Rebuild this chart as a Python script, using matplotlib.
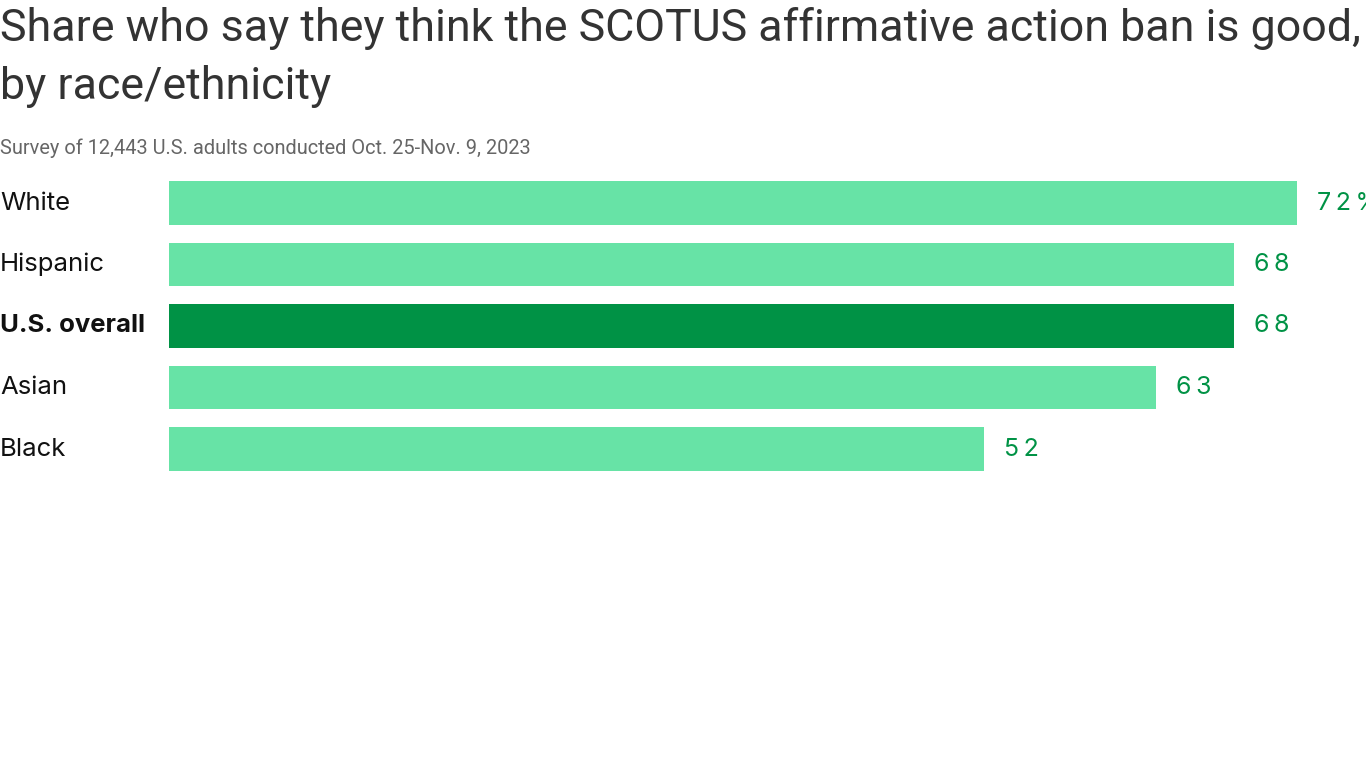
import matplotlib
matplotlib.use("Agg")
import matplotlib.pyplot as plt

categories = ["White", "Hispanic", "U.S. overall", "Asian", "Black"]
values = [72, 68, 68, 63, 52]
value_labels = ["72%", "68", "68", "63", "52"]
highlight = "U.S. overall"

title_line1 = "Share who say they think the SCOTUS affirmative action ban is good,"
title_line2 = "by race/ethnicity"
subtitle = "Survey of 12,443 U.S. adults conducted Oct. 25-Nov. 9, 2023"

W, H = 1366, 768
fig = plt.figure(figsize=(W / 100, H / 100), dpi=100)
fig.patch.set_facecolor("white")

FONT = ["Inter", "DejaVu Sans"]
TFONT = ["Roboto", "DejaVu Sans"]
light = "#67E3A6"
dark = "#009245"
txtgreen = "#009245"

# axes: bars start at x=169px, scale ~15.667px per unit
left_px = 169
px_per_unit = (1297 - 169) / 72
ax_w_px = W - left_px
top_px, bot_px = 172.25, 479.75
ax = fig.add_axes([left_px / W, 1 - bot_px / H, ax_w_px / W, (bot_px - top_px) / H])
ax.set_xlim(0, ax_w_px / px_per_unit)
ax.set_ylim(len(categories) - 0.5, -0.5)
ax.axis("off")

colors = [dark if c == highlight else light for c in categories]
ypos = list(range(len(categories)))
ax.barh(ypos, values, height=0.715, color=colors, edgecolor="none")

thin = "\u2009"
for y, v, lab, c in zip(ypos, values, value_labels, categories):
    ax.annotate(thin.join(lab), xy=(v, y), xytext=(20, 0), textcoords="offset pixels",
                ha="left", va="center", fontsize=18, color=txtgreen, family=FONT,
                annotation_clip=False)
    ax.annotate(c, xy=(0, y), xycoords=("figure fraction", "data"), xytext=(0, 0),
                textcoords="offset pixels", ha="left", va="center", fontsize=18.5,
                color="#111111", family=FONT,
                fontweight="bold" if c == highlight else "normal")

t1 = fig.text(0, 1 - 29 / H, title_line1, ha="left", va="center", fontsize=30,
              color="#333333", family=TFONT)
t2 = fig.text(0, 1 - 87 / H, title_line2, ha="left", va="center", fontsize=30,
              color="#333333", family=TFONT)
st = fig.text(0, 1 - 148 / H, subtitle, ha="left", va="center", fontsize=14,
              color="#666666", family=TFONT)

# fit widths to reference
fig.canvas.draw()
r = fig.canvas.get_renderer()
w1 = t1.get_window_extent(r).width
fs = 30 * 1358 / w1
t1.set_fontsize(fs)
t2.set_fontsize(fs)
ws = st.get_window_extent(r).width
st.set_fontsize(14 * 536 / ws)

fig.savefig("out.png", dpi=100, facecolor="white")
